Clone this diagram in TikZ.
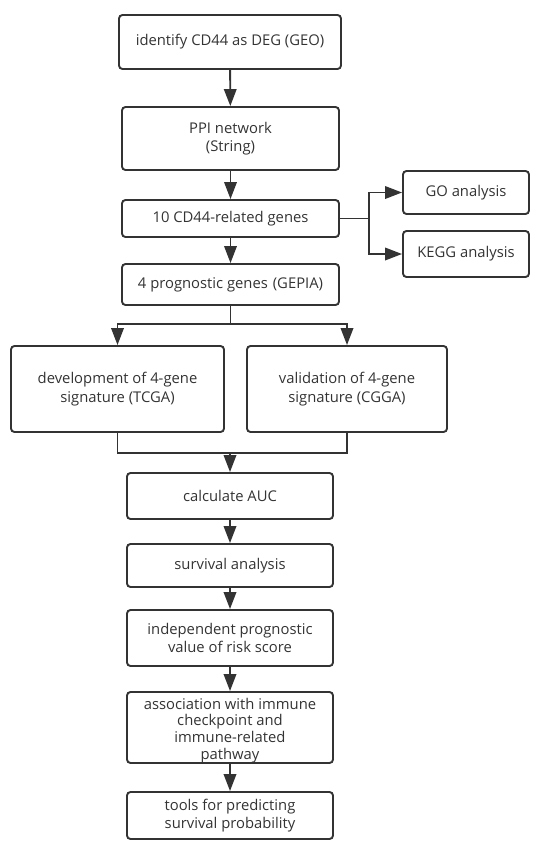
\documentclass[tikz,border=0pt]{standalone}
\usepackage{fontspec}
\setmainfont{Open Sans}
\usepackage{tikz}
\usetikzlibrary{arrows.meta,positioning,calc}

\begin{document}
\begin{tikzpicture}[x=1pt,y=-1pt,
  box/.style={draw=black!80,line width=1.9pt,rounded corners=3.5pt,align=center,
    font=\fontsize{14.8}{18.3}\selectfont,text=black!80,inner sep=1pt},
  flow/.style={draw=black!80,line width=1.9pt,-{Triangle[length=17pt,width=12.5pt]}},
  link/.style={draw=black!80,line width=1.9pt}]
\useasboundingbox (0,0) rectangle (541,847);
% main column
\node[box,minimum width=222pt,minimum height=54pt] (geo) at (230,42) {identify CD44 as DEG (GEO)};
\node[box,minimum width=217pt,minimum height=63pt] (ppi) at (230.5,138.5) {PPI network\\(String)};
\node[box,minimum width=217pt,minimum height=37pt] (rel) at (230.5,218.5) {10 CD44-related genes};
\node[box,minimum width=217pt,minimum height=41pt] (prog) at (230.5,284.5) {4 prognostic genes\,\,(GEPIA)};
\node[box,minimum width=126pt,minimum height=43pt] (go) at (466,192.5) {GO analysis};
\node[box,minimum width=126pt,minimum height=46pt] (kegg) at (466,254) {KEGG analysis};
\node[box,minimum width=213pt,minimum height=86pt] (dev) at (117.5,389) {development of 4-gene\\signature (TCGA)};
\node[box,minimum width=200pt,minimum height=86pt] (val) at (347,389) {validation of 4-gene\\signature (CGGA)};
\node[box,minimum width=206pt,minimum height=46pt] (auc) at (230,496) {calculate AUC};
\node[box,minimum width=206pt,minimum height=43pt] (surv) at (230,565.5) {survival analysis};
\node[box,minimum width=206pt,minimum height=56pt] (indep) at (230,638) {independent prognostic\\value of risk score};
% text runs over the frame here, as in the original
\node[box,minimum width=206pt,minimum height=71pt,
  label={[align=center,text=black!80,font=\fontsize{14.8}{16.8}\selectfont,yshift=-3pt]center:
  association with immune\\checkpoint and\\immune-related\\pathway}] (immune) at (230,727.5) {};
\node[box,minimum width=206pt,minimum height=47pt] (tools) at (230,815.5) {tools for predicting\\survival probability};
% connectors
\draw[flow] (geo) -- (ppi);
\draw[flow] (ppi) -- (rel);
\draw[flow] (rel) -- (prog);
\coordinate (fork) at (369,218.5);
\draw[link] (rel.east) -- (fork);
\draw[flow] (fork) |- (go.west);
\draw[flow] (fork) |- (kegg.west);
\coordinate (split) at (230.5,324);
\draw[link] (prog.south) -- (split);
\draw[flow] (split) -| (dev.north);
\draw[flow] (split) -| (val.north);
\coordinate (join) at (230,453);
\draw[link] (dev.south) |- (join);
\draw[link] (val.south) |- (join);
\draw[flow] (join) -- (auc.north);
\draw[flow] (auc) -- (surv);
\draw[flow] (surv) -- (indep);
\draw[flow] (indep) -- (immune);
\draw[flow] (immune) -- (tools);
\end{tikzpicture}
\end{document}
